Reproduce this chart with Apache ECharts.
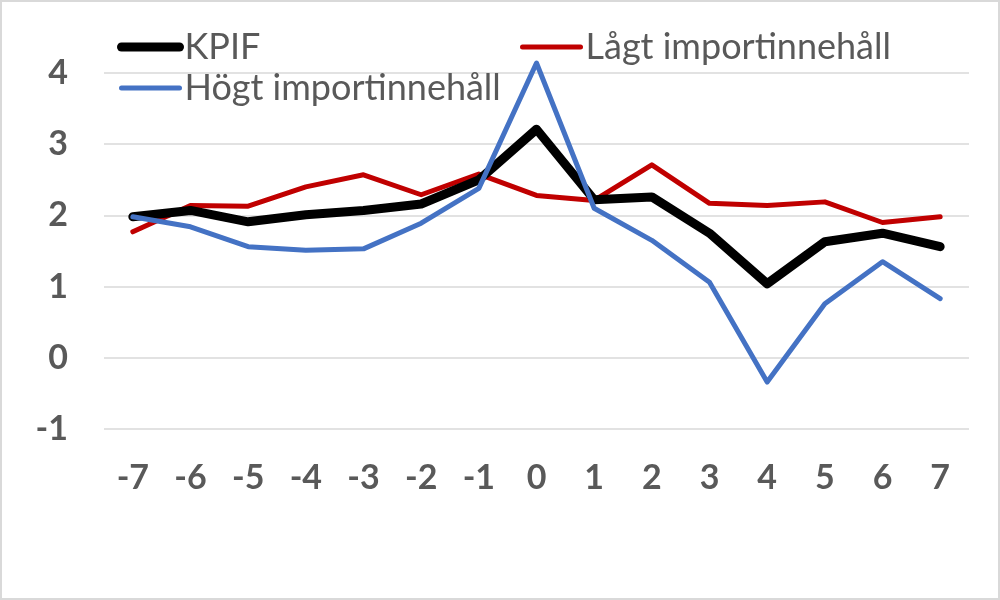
<!DOCTYPE html>
<html>
<head>
<meta charset="utf-8">
<script src="https://cdn.jsdelivr.net/npm/echarts@6/dist/echarts.min.js"></script>
<style>
  html, body { margin: 0; padding: 0; background: #fff; }
  #chart { width: 1000px; height: 600px; box-sizing: border-box; border: 2px solid #d9d9d9; }
</style>
</head>
<body>
<div id="chart"></div>
<script>
// Months relative to the event
var categories = ["-7", "-6", "-5", "-4", "-3", "-2", "-1", "0", "1", "2", "3", "4", "5", "6", "7"];

// Series values
var kpif = [1.98, 2.07, 1.91, 2.01, 2.07, 2.16, 2.50, 3.21, 2.22, 2.26, 1.75, 1.04, 1.63, 1.75, 1.56];
var lagtImport = [1.77, 2.14, 2.13, 2.40, 2.57, 2.29, 2.58, 2.28, 2.21, 2.71, 2.17, 2.14, 2.19, 1.90, 1.98];
var hogtImport = [1.98, 1.84, 1.56, 1.51, 1.53, 1.89, 2.38, 4.14, 2.10, 1.65, 1.06, -0.34, 0.76, 1.35, 0.83];

// Y axis ticks
var yMin = -1;
var yMax = 4;
var yStep = 1;

var chart = echarts.init(document.getElementById("chart"));

var labelColor = "#595959";
var fontName = "Lato, 'Noto Sans', sans-serif";

// legend text shared by both legend blocks
var legendText = { color: labelColor, fontSize: 36, lineHeight: 38 };

chart.setOption({
  animation: false,
  textStyle: { fontFamily: fontName },
  grid: {
    left: 102,
    right: 29,
    top: 71,
    bottom: 169,
    containLabel: false
  },
  legend: [
    {
      orient: "vertical",
      left: 115,
      top: 26,
      padding: 0,
      itemWidth: 58,
      itemHeight: 2,
      itemGap: 3,
      textStyle: legendText,
      data: [
        { name: "KPIF", lineStyle: { width: 9, cap: "round" } },
        { name: "Högt importinnehåll", lineStyle: { width: 5, cap: "round" } }
      ]
    },
    {
      orient: "vertical",
      left: 518,
      top: 26,
      padding: 0,
      itemWidth: 58,
      itemHeight: 2,
      textStyle: legendText,
      data: [
        { name: "Lågt importinnehåll", lineStyle: { width: 5, cap: "round" } }
      ]
    }
  ],
  xAxis: {
    type: "category",
    data: categories,
    boundaryGap: true,
    axisLine: { show: false },
    axisTick: { show: false },
    axisLabel: {
      color: labelColor,
      fontSize: 34,
      fontWeight: "bold",
      margin: 32,
      interval: 0
    }
  },
  yAxis: {
    type: "value",
    min: yMin,
    max: yMax,
    interval: yStep,
    axisLine: { show: false },
    axisTick: { show: false },
    axisLabel: {
      color: labelColor,
      fontSize: 34,
      fontWeight: "bold",
      margin: 36
    },
    splitLine: { lineStyle: { color: "#d9d9d9", width: 1.5 } }
  },
  series: [
    {
      name: "KPIF",
      type: "line",
      data: kpif,
      symbol: "none",
      clip: false,
      z: 4,
      lineStyle: { color: "#000000", width: 9, join: "round", cap: "round" },
      itemStyle: { color: "#000000" }
    },
    {
      name: "Lågt importinnehåll",
      type: "line",
      data: lagtImport,
      symbol: "none",
      clip: false,
      z: 3,
      lineStyle: { color: "#c00000", width: 5, join: "round", cap: "round" },
      itemStyle: { color: "#c00000" }
    },
    {
      name: "Högt importinnehåll",
      type: "line",
      data: hogtImport,
      symbol: "none",
      clip: false,
      z: 5,
      lineStyle: { color: "#4472c4", width: 5, join: "round", cap: "round" },
      itemStyle: { color: "#4472c4" }
    }
  ]
});
</script>
</body>
</html>
